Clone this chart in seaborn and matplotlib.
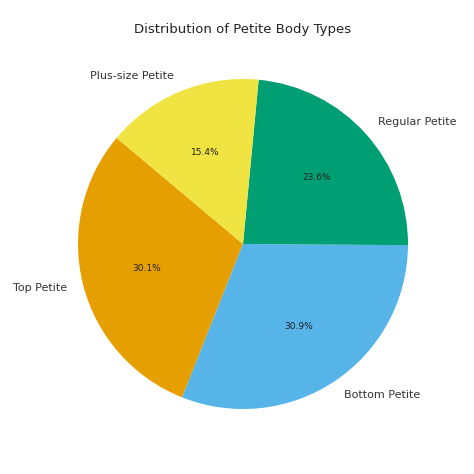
import matplotlib
matplotlib.use("Agg")
import matplotlib.pyplot as plt
import seaborn as sns

labels = ['Top Petite', 'Bottom Petite', 'Regular Petite', 'Plus-size Petite']
shares = [30.1, 30.9, 23.6, 15.4]
colors = ['#E69F00', '#56B4E9', '#009E73', '#F0E442']

sns.set_style("white")
plt.rcParams['font.family'] = ['DejaVu Sans']

fig = plt.figure(figsize=(4.74, 4.74), dpi=100)
# pie centre ~ (243, 244) px, radius ~165 px
ax = fig.add_axes([(243 - 165) / 474, (474 - 244 - 165) / 474, 330 / 474, 330 / 474])
wedges, texts, autotexts = ax.pie(shares, labels=labels, colors=colors, autopct='%1.1f%%',
                                  startangle=140, wedgeprops={'linewidth': 0, 'edgecolor': 'none'},
                                  textprops={'fontsize': 8, 'color': '#333333'})
for t in autotexts:
    t.set_fontsize(6.5)
    t.set_color('#222222')
ax.set_xlim(-1, 1)
ax.set_ylim(-1, 1)
ax.set_aspect('equal')
fig.text(243 / 474, 1 - 30 / 474, 'Distribution of Petite Body Types', ha='center', va='center',
         fontsize=9.5, color='#222222')

fig.savefig('out.png', dpi=100)
